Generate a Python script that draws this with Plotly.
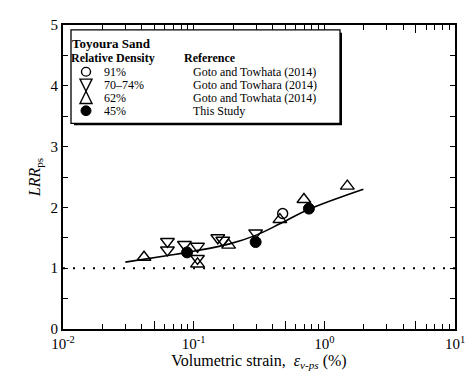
import plotly.graph_objects as go

# ---------------- data ----------------
d91_x = [0.48]
d91_y = [1.90]

d70_x = [0.063, 0.063, 0.085, 0.107, 0.107, 0.153, 0.167, 0.298]
d70_y = [1.44, 1.30, 1.39, 1.36, 1.16, 1.50, 1.46, 1.58]

d62_x = [0.0417, 0.107, 0.185, 0.457, 0.698, 1.50]
d62_y = [1.18, 1.07, 1.38, 1.80, 2.13, 2.35]

d45_x = [0.089, 0.298, 0.762]
d45_y = [1.26, 1.43, 1.98]

fit_x = [0.030, 0.0636, 0.089, 0.188, 0.298, 0.457, 0.762, 1.99]
fit_y = [1.10, 1.21, 1.26, 1.40, 1.54, 1.73, 1.97, 2.30]

ref_x = [0.01, 10]
ref_y = [1, 1]

x_major = [0.01, 0.05, 0.1, 0.5, 1, 5, 10]
x_major_text = ["10<sup>-2</sup>", "", "10<sup>-1</sup>", "", "10<sup>0</sup>", "", "10<sup>1</sup>"]
x_minor = [m * d for d in (0.01, 0.1, 1) for m in (2, 3, 4, 6, 7, 8, 9)]
y_major = [0, 1, 2, 3, 4, 5]

FONT = "Liberation Serif"

fig = go.Figure()

fig.add_trace(go.Scatter(x=ref_x, y=ref_y, mode="lines",
                         line=dict(color="black", width=2, dash="2px,8px"),
                         showlegend=False, hoverinfo="skip"))
fig.add_trace(go.Scatter(x=fit_x, y=fit_y, mode="lines", line_shape="spline",
                         line=dict(color="black", width=1.6), showlegend=False))

mk_line = dict(color="black", width=1.4)
fig.add_trace(go.Scatter(x=d91_x, y=d91_y, mode="markers", name="91%",
                         marker=dict(symbol="circle-open", size=10, color="black", line=mk_line)))
fig.add_trace(go.Scatter(x=d70_x, y=d70_y, mode="markers", name="70–74%",
                         marker=dict(symbol="triangle-down-open", size=12, color="black", line=mk_line)))
fig.add_trace(go.Scatter(x=d62_x, y=d62_y, mode="markers", name="62%",
                         marker=dict(symbol="triangle-up-open", size=12, color="black", line=mk_line)))
fig.add_trace(go.Scatter(x=d45_x, y=d45_y, mode="markers", name="45%",
                         marker=dict(symbol="circle", size=11, color="black", line=dict(color="black", width=1))))

# ---------------- layout ----------------
L, R, T, B = 55, 447, 9, 321
W, H = 474, 382


def px(x):
    return (x - L) / (R - L)


def py(y):
    return (B - y) / (B - T)


shapes = []
# legend box shadow + box
shapes.append(dict(type="rect", xref="paper", yref="paper",
                   x0=px(66), x1=px(334), y0=py(112), y1=py(17),
                   fillcolor="black", line=dict(width=0), layer="above"))
shapes.append(dict(type="rect", xref="paper", yref="paper",
                   x0=px(63), x1=px(332), y0=py(110), y1=py(14),
                   fillcolor="white", line=dict(color="black", width=1.3), layer="above"))
# legend symbols
cx = 78
shapes.append(dict(type="circle", xref="paper", yref="paper",
                   x0=px(cx - 4.5), x1=px(cx + 4.5), y0=py(57 + 4.5), y1=py(57 - 4.5),
                   line=dict(color="black", width=1.4), layer="above"))
shapes.append(dict(type="path", xref="paper", yref="paper",
                   path=f"M {px(cx-6)} {py(64.5)} L {px(cx+6)} {py(64.5)} L {px(cx)} {py(77)} Z",
                   line=dict(color="black", width=1.4), layer="above"))
shapes.append(dict(type="path", xref="paper", yref="paper",
                   path=f"M {px(cx-6)} {py(89.5)} L {px(cx+6)} {py(89.5)} L {px(cx)} {py(77)} Z",
                   line=dict(color="black", width=1.4), layer="above"))
shapes.append(dict(type="circle", xref="paper", yref="paper",
                   x0=px(cx - 5), x1=px(cx + 5), y0=py(97 + 5), y1=py(97 - 5),
                   fillcolor="black", line=dict(color="black", width=1), layer="above"))

annotations = []


def txt(x, y, s, size=12):
    annotations.append(dict(xref="paper", yref="paper", x=px(x), y=py(y), text=s,
                            showarrow=False, xanchor="left", yanchor="middle",
                            xshift=-2,
                            font=dict(family=FONT, size=size, color="black")))


txt(64, 28, "<b>Toyoura Sand</b>", size=13)
txt(63, 43, "<b>Relative Density</b>", size=12)
txt(176, 43, "<b>Reference</b>", size=12)
rows = [57, 71, 84, 97]
pct = ["91%", "70–74%", "62%", "45%"]
refs = ["Goto and Towhata (2014)", "Goto and Towhara (2014)",
        "Goto and Towhata (2014)", "This Study"]
for r, p, s in zip(rows, pct, refs):
    txt(96, r, p)
    txt(185, r, s)

fig.update_layout(
    width=W, height=H,
    margin=dict(l=L, r=W - R, t=T, b=H - B),
    paper_bgcolor="white", plot_bgcolor="white",
    showlegend=False,
    font=dict(family=FONT, size=14, color="black"),
    shapes=shapes, annotations=annotations,
    xaxis=dict(type="log", range=[-2, 1],
               tickmode="array", tickvals=x_major, ticktext=x_major_text,
               ticks="inside", ticklen=8, tickwidth=1.3, tickcolor="black",
               minor=dict(tickmode="array", tickvals=x_minor, ticks="inside",
                          ticklen=5, tickwidth=1.3, tickcolor="black"),
               showline=True, linecolor="black", linewidth=1.8, mirror="ticks",
               showgrid=False, zeroline=False,
               tickfont=dict(family=FONT, size=15),
               title=dict(text="Volumetric strain,  <i>ε<sub>v-ps</sub></i> (%)",
                          font=dict(family=FONT, size=16), standoff=4)),
    yaxis=dict(range=[0, 5], tickmode="array", tickvals=y_major,
               ticks="inside", ticklen=5, tickwidth=1.3, tickcolor="black",
               minor=dict(dtick=0.5, ticks="inside", ticklen=5, tickwidth=1.3,
                          tickcolor="black"),
               showline=True, linecolor="black", linewidth=1.8, mirror="ticks",
               showgrid=False, zeroline=False,
               tickfont=dict(family=FONT, size=15),
               title=dict(text="<i>LRR</i><sub>ps</sub>",
                          font=dict(family=FONT, size=16), standoff=6)),
)

fig.write_html("out.html")
